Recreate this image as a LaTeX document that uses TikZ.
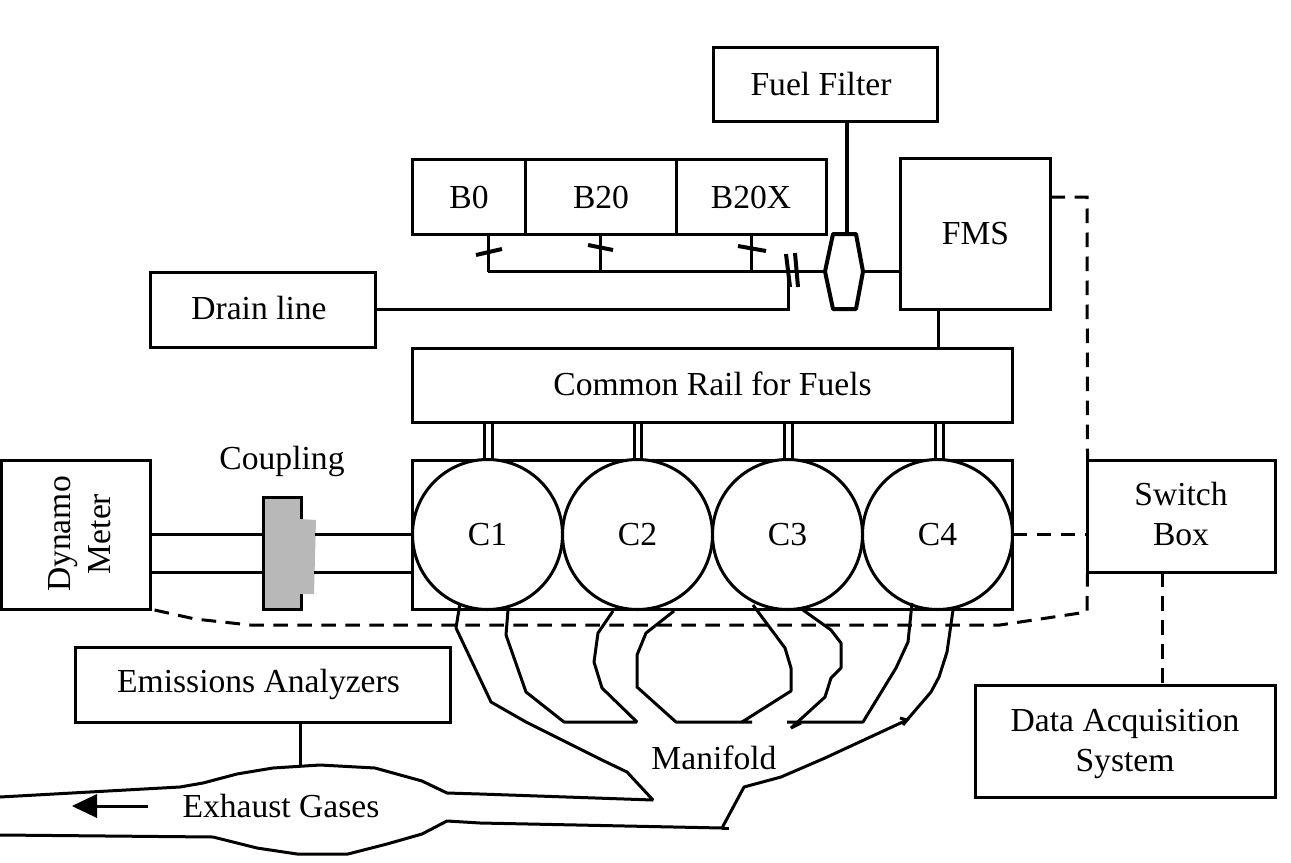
\documentclass[tikz,border=0pt]{standalone}
\usepackage{fontspec}
\setmainfont{Liberation Serif}
\usetikzlibrary{arrows.meta,calc}
\definecolor{coupgray}{HTML}{B8B8B8}
\newcommand{\upby}[2]{\raisebox{#1}{#2}}
\tikzset{
  boxn/.style={draw=black,line width=2.25pt,rectangle,outer sep=0pt,inner sep=0pt,align=center,font=\fontsize{25.2}{30}\selectfont},
  cyl/.style={draw=black,fill=white,line width=2.25pt,circle,outer sep=0pt,inner sep=0pt,minimum size=150*.75pt,font=\fontsize{25.2}{30}\selectfont},
  lab/.style={inner sep=0pt,outer sep=0pt,align=center,font=\fontsize{25.2}{30}\selectfont},
  wire/.style={line width=2.25pt},
  heavy/.style={line width=3pt},
  dashwire/.style={line width=2.25pt,dash pattern=on 11pt off 7pt},
  pipe/.style={line width=2.25pt,line join=bevel}
}
\begin{document}
\begin{tikzpicture}[x=0.75pt,y=-0.75pt]
\useasboundingbox (0,0) rectangle (1291,863);
% boxes
\node[boxn,minimum width=224*.75pt,minimum height=74*.75pt] (ff) at (825,85) {\upby{2pt}{Fuel Filter\hspace*{6pt}}};
\node[boxn,minimum width=113*.75pt,minimum height=74*.75pt] (b0) at (469,197) {B0};
\node[boxn,minimum width=151*.75pt,minimum height=74*.75pt] (b20) at (601,197) {B20};
\node[boxn,minimum width=150*.75pt,minimum height=74*.75pt] (b20x) at (751,197) {B20X};
\node[boxn,minimum width=150*.75pt,minimum height=150*.75pt] (fms) at (975.5,234) {\upby{1pt}{FMS}};
\node[boxn,minimum width=225*.75pt,minimum height=75*.75pt] (drain) at (263,309.5) {\upby{2.5pt}{Drain line\hspace*{6pt}}};
\node[boxn,minimum width=600*.75pt,minimum height=74*.75pt] (rail) at (712.5,385) {\upby{2.5pt}{Common Rail for Fuels}};
\node[boxn,minimum width=600*.75pt,minimum height=149*.75pt] (engine) at (712.5,534.5) {};
\node[boxn,minimum width=188*.75pt,minimum height=112*.75pt] (switch) at (1181.5,516) {};
\node[lab] (swlab) at (1181,514) {Switch\\Box};
\node[boxn,minimum width=300*.75pt,minimum height=112*.75pt] (daq) at (1125.5,741) {};
\node[lab] (daqlab) at (1125,744) {Data Acquisition\\System};
\node[boxn,minimum width=375*.75pt,minimum height=75*.75pt] (emis) at (262.5,684.5) {\upby{-2pt}{Emissions Analyzers\hspace*{6pt}}};
\node[boxn,minimum width=149*.75pt,minimum height=149*.75pt] (dyn) at (75.5,534.5) {};
\node[lab,rotate=90] (dynlab) at (80,534) {Dynamo\\Meter};
% cylinders
\node[cyl] (c1) at (487.5,534.5) {C1};
\node[cyl] (c2) at (637.5,534.5) {C2};
\node[cyl] (c3) at (787.5,534.5) {C3};
\node[cyl] (c4) at (937.5,534.5) {C4};
% coupling
\node[boxn,fill=coupgray,minimum width=38*.75pt,minimum height=112*.75pt] (coup) at (282,553) {};
\fill[coupgray] (299.5,519) -- (316,520) -- (314,594) -- (299.5,594) -- cycle;
\node[lab] (couplab) at (282,461) {Coupling};
% shaft
\coordinate (s1) at (315,534);
\coordinate (s2) at (314,572);
\draw[wire] (dyn.east |- s1) -- (coup.west |- s1);
\draw[wire] (dyn.east |- s2) -- (coup.west |- s2);
\draw[wire] (s1) -- (engine.west |- s1);
\draw[wire] (s2) -- (engine.west |- s2);
% fuel lines
\draw[heavy,line join=round] (825,271.5) -- (833,234) -- (856,234) -- (863,271.5) -- (856,309) -- (833,309) -- cycle;
\coordinate (hl) at (825,271.5);
\coordinate (hr) at (863,271.5);
\coordinate (ht) at (847,234);
\draw[line width=3pt] (ff.south -| ht) -- (ht);
\draw[wire] (hr) -- (fms.west |- hr);
\coordinate (v0) at (488,271.5);
\coordinate (v1) at (600.5,271.5);
\coordinate (v2) at (751,271.5);
\draw[wire] (v0) -- (hl);
\draw[wire] (b0.south -| v0) -- (v0);
\draw[wire] (b20.south -| v1) -- (v1);
\draw[wire] (b20x.south -| v2) -- (v2);
\coordinate (dj) at (788,271.5);
\draw[wire] (drain.east) -| (dj);
\draw[heavy] (476,255) -- (502,249);
\draw[heavy] (588,245) -- (613,250);
\draw[heavy] (738,246) -- (766,251);
\draw[heavy] (786,254) -- (790,287);
\draw[heavy] (795,253) -- (798,287);
\coordinate (fr) at (938,348);
\draw[wire] (fms.south -| fr) -- (rail.north -| fr);
% rail to cylinders
\foreach \c/\a/\b in {c1/484/492,c2/634/641,c3/784/792,c4/935/943}{
  \draw[wire] (rail.south -| \a,0) -- (\c.north -| \a,0);
  \draw[wire] (rail.south -| \b,0) -- (\c.north -| \b,0);
}
% dashed lines
\coordinate (d1) at (1087,197);
\coordinate (d2) at (1087,612);
\coordinate (d3) at (1000,625);
\coordinate (d4) at (250,625);
\coordinate (d4b) at (195,619);
\draw[dashwire] (fms.east |- d1) -- (d1) -- (switch.north west);
\draw[dashwire] (switch.south west) -- (d2) -- (d3) -- (d4) -- (d4b) -- (dyn.south east);
\coordinate (d5) at (1087,534.5);
\draw[dashwire] (engine.east) -- (d5);
\coordinate (d6) at (1162,572);
\draw[dashwire] (d6) -- (daq.north -| d6);
% exhaust
\node[lab] (manlab) at (714,758) {Manifold};
\node[lab] (exlab) at (281,806) {Exhaust Gases};
\coordinate (et) at (653,800);
\draw[pipe] (460,603) -- (456,628) -- (491,702) -- (526,722) -- (602,760) -- (627,772) -- (et)
  -- (480,794) -- (447,793) -- (422,781) -- (375,768) -- (320,765) -- (273,768) -- (237,774) -- (203,783) -- (180,787) -- (0,797);
\draw[pipe] (953,610) -- (947,652) -- (939,677) -- (931,692) -- (907,720) -- (825,758) -- (781,777) -- (744,787) -- (722,828) -- (480,823) -- (447,821) -- (422,834) -- (387,844) -- (348,854) -- (297,854) -- (257,848) -- (213,837) -- (0,835);
\draw[wire] (722,828) -- (729,828);
\draw[wire] (903,725) -- (907,720) -- (900,718);
\draw[pipe] (912,603) -- (908,642) -- (896,668) -- (863,722) -- (787,722);
\draw[pipe] (803,610) -- (831,630) -- (841,643) -- (841,668) -- (831,678) -- (825,697) -- (791,728) -- (801,723);
\draw[pipe] (753,605) -- (785,648) -- (791,668) -- (791,691) -- (742,722) -- (752,722);
\draw[pipe] (742,722) -- (676,722) -- (637,687) -- (637,655) -- (646,633) -- (674,611);
\draw[pipe] (613,611) -- (598,633) -- (594,662) -- (602,688) -- (637,722) -- (564,722) -- (526,692) -- (506,635) -- (508,610);
% emissions to exhaust
\coordinate (ej) at (300,766);
\draw[wire] (emis.south -| ej) -- (ej);
% flow arrow
\coordinate (a1) at (148,806);
\coordinate (a2) at (97,806);
\draw[wire] (a1) -- (a2);
\fill (72,806) -- (97,794) -- (97,818) -- cycle;
\end{tikzpicture}
\end{document}
